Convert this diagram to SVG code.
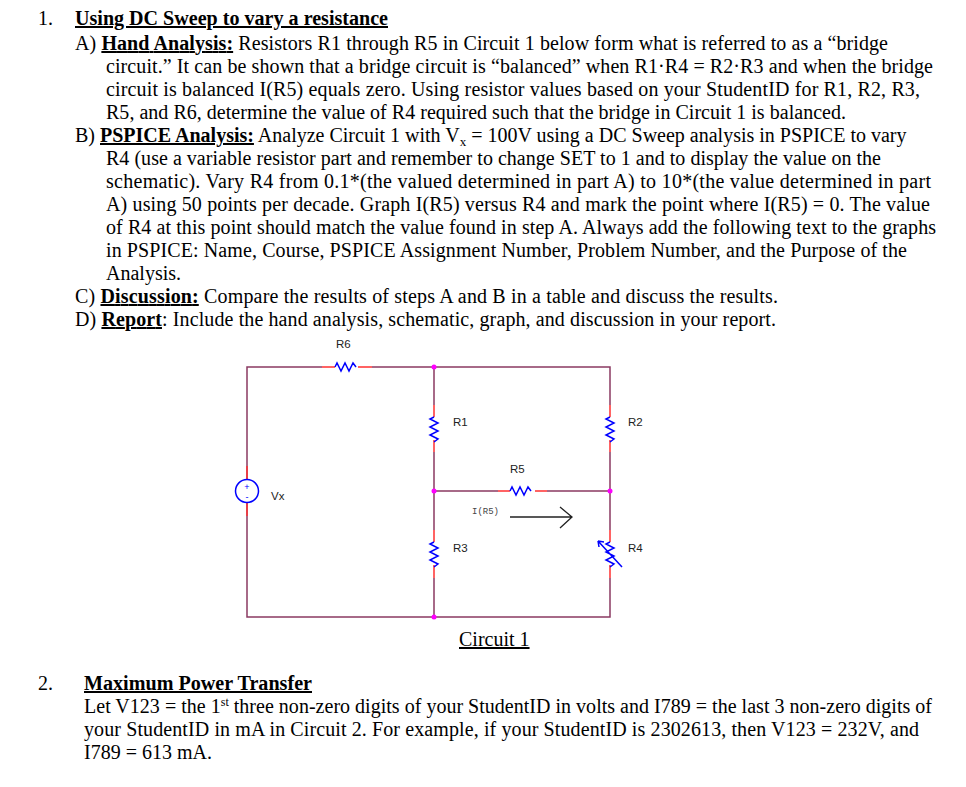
<svg xmlns="http://www.w3.org/2000/svg" width="966" height="787" viewBox="0 0 966 787" xml:space="preserve">
<style>
.t{font-family:"Liberation Serif",serif;font-size:20px;fill:#000}
.b{font-weight:bold}
.u{text-decoration:underline}
.w{stroke:#8b3a62;stroke-width:1.5;fill:none}
.l{stroke:#ff3030;stroke-width:1.5;fill:none}
.z{stroke:#0000ff;stroke-width:1.5;fill:none}
.lb{font-family:"Liberation Sans",sans-serif;font-size:11.5px;fill:#222}
.dot{fill:#ff00ff}
</style>
<rect width="966" height="787" fill="#fff"/>
<g id="text1">
<text class="t" x="38" y="25">1.</text>
<text class="t b u" x="75" y="25" textLength="313" lengthAdjust="spacingAndGlyphs">Using DC Sweep to vary a resistance</text>
<text class="t" x="75" y="50" textLength="813" lengthAdjust="spacing"><tspan>A) </tspan><tspan class="b u">Hand Analysis:</tspan>  Resistors R1 through R5 in Circuit 1 below form what is referred to as a “bridge</text>
<text class="t" x="106" y="73" textLength="827" lengthAdjust="spacing">circuit.”  It can be shown that a bridge circuit is “balanced” when R1·R4 =  R2·R3 and when the bridge</text>
<text class="t" x="106" y="96" textLength="814" lengthAdjust="spacing">circuit is balanced I(R5) equals zero.  Using resistor values based on your StudentID for R1, R2, R3,</text>
<text class="t" x="106" y="119" textLength="740" lengthAdjust="spacing">R5, and R6, determine the value of R4 required such that the bridge in Circuit 1 is balanced.</text>
<text class="t" x="75" y="142"><tspan>B) </tspan><tspan class="b u">PSPICE Analysis:</tspan>  Analyze Circuit 1 with V<tspan font-size="13" dy="4">x</tspan><tspan dy="-4"> = 100V using a DC Sweep analysis in PSPICE to vary</tspan></text>
<text class="t" x="106" y="165" textLength="775" lengthAdjust="spacing">R4 (use a variable resistor part and remember to change SET to 1 and to display the value on the</text>
<text class="t" x="106" y="188" textLength="825" lengthAdjust="spacing">schematic).  Vary R4 from 0.1*(the valued determined in part A) to 10*(the value determined in part</text>
<text class="t" x="106" y="211" textLength="824" lengthAdjust="spacing">A) using 50 points per decade.  Graph I(R5) versus R4 and mark the point where I(R5) = 0.  The value</text>
<text class="t" x="106" y="234" textLength="830" lengthAdjust="spacing">of R4 at this point should match the value found in step A.  Always add the following text to the graphs</text>
<text class="t" x="106" y="257" textLength="801" lengthAdjust="spacing">in PSPICE:  Name, Course, PSPICE Assignment Number, Problem Number, and the Purpose of the</text>
<text class="t" x="106" y="280">Analysis.</text>
<text class="t" x="75" y="303" textLength="703" lengthAdjust="spacing"><tspan>C) </tspan><tspan class="b u">Discussion:</tspan>  Compare the results of steps A and B in a table and discuss the results.</text>
<text class="t" x="75" y="326" textLength="701" lengthAdjust="spacing"><tspan>D) </tspan><tspan class="b u">Report</tspan>:  Include the hand analysis, schematic, graph, and discussion in your report.</text>
</g>
<g id="connectors">
<path class="w" d="M247 479 V367 H322 M372 367 H610 V405 M610 452 V530 M610 578 V617 H247 V503"/>
<path class="w" d="M434 367 V405 M434 452 V530 M434 578 V617 M434 491 H498 M547 491 H610"/>
</g>
<g id="R6"><path class="l" d="M322 367 H335 M358 367 H372"/><path class="z" d="M335 367 l2 -4 l4 8 l4 -8 l4 8 l4 -8 l3 4"/><text class="lb" x="336" y="348">R6</text></g>
<g id="R1"><path class="l" d="M434 405 V417 M434 440 V452"/><path class="z" d="M434 417 l-4 2 l8 4 l-8 4 l8 4 l-8 4 l8 4 l-4 3"/><text class="lb" x="453" y="426">R1</text></g>
<g id="R3"><path class="l" d="M434 530 V542 M434 565 V578"/><path class="z" d="M434 542 l-4 2 l8 4 l-8 4 l8 4 l-8 4 l8 4 l-4 3"/><text class="lb" x="453" y="552">R3</text></g>
<g id="R2"><path class="l" d="M610 405 V417 M610 440 V452"/><path class="z" d="M610 417 l-4 2 l8 4 l-8 4 l8 4 l-8 4 l8 4 l-4 3"/><text class="lb" x="628" y="426">R2</text></g>
<g id="R4"><path class="l" d="M610 530 V542 M610 565 V578"/><path class="z" d="M610 542 l-4 2 l8 4 l-8 4 l8 4 l-8 4 l8 4 l-4 3 M622 567 L598 541 M598 541 l1 6 M598 541 l6 1"/><text class="lb" x="628" y="552">R4</text></g>
<g id="R5"><path class="l" d="M498 491 H510 M535 491 H547"/><path class="z" d="M510 491 l2 -4 l4 8 l4 -8 l4 8 l4 -8 l3 4"/><text class="lb" x="510" y="473">R5</text></g>
<g id="Vx"><path class="l" d="M247 466 V479 M247 503 V516"/><circle cx="247" cy="491" r="11.5" fill="none" stroke="#0000ff" stroke-width="1.5"/><text x="247" y="490" font-family="Liberation Sans,sans-serif" font-size="9" text-anchor="middle" fill="#0000ff">+</text><text x="247" y="500" font-family="Liberation Sans,sans-serif" font-size="9" text-anchor="middle" fill="#0000ff">-</text><text class="lb" x="271" y="500">Vx</text></g>
<g id="nodes"><circle class="dot" cx="434" cy="367" r="2.5"/><circle class="dot" cx="434" cy="491" r="2.5"/><circle class="dot" cx="610" cy="491" r="2.5"/><circle class="dot" cx="434" cy="617" r="2.5"/></g>
<g id="IR5"><text x="472" y="514" font-family="Liberation Mono,monospace" font-size="9" fill="#444">I(R5)</text><path d="M510 517 H572 M560 507 L572 517 L560 528" stroke="#222" stroke-width="1.3" fill="none"/></g>
<text class="t u" x="459" y="646" font-size="16">Circuit 1</text>
<g id="text2">
<text class="t" x="38" y="690">2.</text>
<text class="t b u" x="84" y="690" textLength="228" lengthAdjust="spacingAndGlyphs">Maximum Power Transfer</text>
<text class="t" x="84" y="713" textLength="848" lengthAdjust="spacing">Let V123 = the 1<tspan font-size="12" dy="-7">st</tspan><tspan dy="7"> three non-zero digits of your StudentID in volts and I789 = the last 3 non-zero digits of</tspan></text>
<text class="t" x="84" y="736" textLength="835" lengthAdjust="spacing">your StudentID in mA in Circuit 2.  For example, if your StudentID is 2302613, then V123 = 232V, and</text>
<text class="t" x="84" y="759">I789 = 613 mA.</text>
</g>
</svg>
